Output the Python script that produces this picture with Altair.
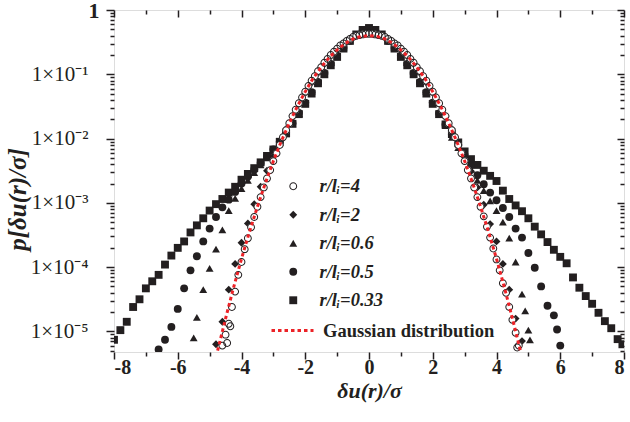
import altair as alt
import pandas as pd

INK = "#231f20"
RED = "#ec2227"
FONT = "Liberation Serif"

# ring outline used for the open-circle series (drawn over a white disc)
RING = ("M-1,0A1,1 0 1,0 1,0A1,1 0 1,0 -1,0Z"
        "M-0.74,0A0.74,0.74 0 1,1 0.74,0A0.74,0.74 0 1,1 -0.74,0Z")

# series labels (legend order) and marker styles
labels = ["r/lᵢ=4", "r/lᵢ=2", "r/lᵢ=0.6", "r/lᵢ=0.5", "r/lᵢ=0.33"]
shapes = [RING, "diamond", "triangle-up", "circle", "square"]
sizes = [62, 62, 80, 72, 72]

# r/l_i = 0.33 (squares), log10 of the PDF
sq_x = [-8.0, -7.8, -7.6, -7.4, -7.2, -7.0, -6.8, -6.6, -6.4, -6.2,
        -6.0, -5.8, -5.6, -5.4, -5.2, -5.0, -4.8, -4.6, -4.4, -4.2,
        -4.0, -3.8, -3.6, -3.4, -3.2, -3.0, -2.8, -2.6, -2.4, -2.2,
        -2.0, -1.8, -1.6, -1.4, -1.2, -1.0, -0.8, -0.6, -0.4, -0.2,
        0.0, 0.2, 0.4, 0.6, 0.8, 1.0, 1.2, 1.4, 1.6, 1.8,
        2.0, 2.2, 2.4, 2.6, 2.8, 3.0, 3.2, 3.4, 3.6, 3.8,
        4.0, 4.2, 4.4, 4.6, 4.8, 5.0, 5.2, 5.4, 5.6, 5.8,
        6.0, 6.2, 6.4, 6.6, 6.8, 7.0, 7.2, 7.4, 7.6, 7.8, 7.95]
sq_log = [-5.13, -4.98, -4.85, -4.62, -4.50, -4.33, -4.22, -4.12, -3.96, -3.82,
          -3.70, -3.60, -3.46, -3.35, -3.24, -3.12, -3.02, -2.94, -2.84, -2.75,
          -2.64, -2.55, -2.46, -2.37, -2.27, -2.17, -2.05, -1.92, -1.77, -1.62,
          -1.46, -1.30, -1.14, -1.00, -0.86, -0.73, -0.60, -0.48, -0.38, -0.31,
          -0.28, -0.31, -0.38, -0.48, -0.60, -0.73, -0.86, -1.00, -1.14, -1.30,
          -1.46, -1.62, -1.78, -1.93, -2.06, -2.20, -2.32, -2.41, -2.50, -2.58,
          -2.66, -2.81, -2.94, -3.04, -3.13, -3.24, -3.37, -3.49, -3.61, -3.73,
          -3.84, -3.94, -4.16, -4.32, -4.45, -4.57, -4.71, -4.84, -4.95, -5.12, -5.20]

# r/l_i = 0.5 (filled circles)
ci_x = [-6.6, -6.4, -6.2, -6.0, -5.8, -5.6, -5.4, -5.2, -5.0, -4.8,
        -4.6, -4.4, -4.2, -4.0, -3.8, -3.6, -3.4, -3.2, -3.0, -2.8,
        -2.6, -2.4, -2.2, -2.0, -1.8, -1.6, -1.4, -1.2, -1.0, -0.8,
        -0.6, -0.4, -0.2, 0.0, 0.2, 0.4, 0.6, 0.8, 1.0, 1.2,
        1.4, 1.6, 1.8, 2.0, 2.2, 2.4, 2.6, 2.8, 3.0, 3.2,
        3.4, 3.6, 3.8, 4.0, 4.2, 4.4, 4.6, 4.8, 5.0, 5.2,
        5.4, 5.6, 5.8, 5.9, 6.0]
ci_log = [-5.28, -5.13, -4.93, -4.65, -4.33, -4.05, -3.83, -3.60, -3.40, -3.22,
          -3.07, -2.95, -2.83, -2.70, -2.59, -2.48, -2.38, -2.28, -2.17, -2.05,
          -1.91, -1.76, -1.60, -1.44, -1.28, -1.12, -0.98, -0.84, -0.71, -0.59,
          -0.48, -0.39, -0.33, -0.31, -0.33, -0.39, -0.48, -0.59, -0.71, -0.84,
          -0.98, -1.12, -1.28, -1.44, -1.61, -1.78, -1.94, -2.10, -2.26, -2.42,
          -2.57, -2.71, -2.84, -2.96, -3.08, -3.22, -3.40, -3.54, -3.78, -4.01,
          -4.30, -4.60, -4.75, -4.97, -5.22]

# r/l_i = 0.6 (triangles)
tr_x = [-5.5, -5.4, -5.2, -5.0, -4.8, -4.6, -4.4, -4.2, -4.0, -3.8,
        -3.6, -3.4, -3.2, -3.0, -2.8, -2.6, -2.4, -2.2, -2.0, -1.8,
        -1.6, -1.4, -1.2, -1.0, -0.8, -0.6, -0.4, -0.2, 0.0, 0.2,
        0.4, 0.6, 0.8, 1.0, 1.2, 1.4, 1.6, 1.8, 2.0, 2.2,
        2.4, 2.6, 2.8, 3.0, 3.2, 3.4, 3.6, 3.8, 4.0, 4.2,
        4.4, 4.6, 4.8, 4.9, 5.0, 5.05]
tr_log = [-5.10, -4.78, -4.35, -4.02, -3.72, -3.42, -3.12, -2.93, -2.78, -2.65,
          -2.53, -2.41, -2.30, -2.19, -2.06, -1.92, -1.77, -1.61, -1.44, -1.27,
          -1.11, -0.96, -0.82, -0.69, -0.58, -0.48, -0.40, -0.35, -0.33, -0.35,
          -0.40, -0.48, -0.58, -0.69, -0.82, -0.96, -1.11, -1.27, -1.44, -1.62,
          -1.80, -1.98, -2.14, -2.31, -2.48, -2.65, -2.81, -2.97, -3.12, -3.30,
          -3.55, -3.92, -4.42, -4.68, -4.98, -5.13]

# r/l_i = 2 (diamonds)
di_x = [-4.8, -4.6, -4.4, -4.2, -4.0, -3.8, -3.6, -3.4, -3.2, -3.0,
        -2.8, -2.6, -2.4, -2.2, -2.0, -1.8, -1.6, -1.4, -1.2, -1.0,
        -0.8, -0.6, -0.4, -0.2, 0.0, 0.2, 0.4, 0.6, 0.8, 1.0,
        1.2, 1.4, 1.6, 1.8, 2.0, 2.2, 2.4, 2.6, 2.8, 3.0,
        3.2, 3.4, 3.6, 3.8, 4.0, 4.2, 4.4, 4.6, 4.8]
di_log = [-5.20, -4.85, -4.35, -3.95, -3.62, -3.32, -3.02, -2.75, -2.50, -2.27,
          -2.06, -1.85, -1.65, -1.46, -1.29, -1.13, -0.98, -0.84, -0.72, -0.62,
          -0.52, -0.45, -0.39, -0.35, -0.34, -0.35, -0.39, -0.45, -0.52, -0.62,
          -0.72, -0.84, -0.98, -1.13, -1.29, -1.46, -1.65, -1.85, -2.06, -2.28,
          -2.51, -2.76, -3.03, -3.33, -3.60, -3.95, -4.35, -4.80, -5.15]

# r/l_i = 4 (open circles)
oc_x = [-4.6, -4.5, -4.45, -4.4, -4.35, -4.3, -4.2, -4.1, -4.0, -3.9,
        -3.8, -3.7, -3.6, -3.5, -3.4, -3.3, -3.2, -3.1, -3.0, -2.9,
        -2.8, -2.7, -2.6, -2.5, -2.4, -2.3, -2.2, -2.1, -2.0, -1.9,
        -1.8, -1.7, -1.6, -1.5, -1.4, -1.3, -1.2, -1.1, -1.0, -0.9,
        -0.8, -0.7, -0.6, -0.5, -0.4, -0.3, -0.2, -0.1, 0.0, 0.1,
        0.2, 0.3, 0.4, 0.5, 0.6, 0.7, 0.8, 0.9, 1.0, 1.1,
        1.2, 1.3, 1.4, 1.5, 1.6, 1.7, 1.8, 1.9, 2.0, 2.1,
        2.2, 2.3, 2.4, 2.5, 2.6, 2.7, 2.8, 2.9, 3.0, 3.1,
        3.2, 3.3, 3.4, 3.5, 3.6, 3.7, 3.8, 3.9, 4.0, 4.1,
        4.2, 4.3, 4.4, 4.5, 4.6, 4.65, 4.7]
oc_log = [-5.22, -5.05, -5.18, -4.88, -4.92, -4.62, -4.38, -4.12, -3.92, -3.72,
          -3.55, -3.38, -3.22, -3.06, -2.91, -2.76, -2.62, -2.49, -2.35, -2.23,
          -2.10, -1.98, -1.87, -1.76, -1.65, -1.55, -1.45, -1.36, -1.27, -1.18,
          -1.10, -1.03, -0.95, -0.89, -0.82, -0.76, -0.70, -0.65, -0.60, -0.55,
          -0.52, -0.48, -0.45, -0.42, -0.40, -0.39, -0.38, -0.37, -0.37, -0.37,
          -0.38, -0.39, -0.40, -0.42, -0.45, -0.48, -0.52, -0.55, -0.60, -0.65,
          -0.70, -0.76, -0.82, -0.89, -0.95, -1.03, -1.10, -1.18, -1.27, -1.36,
          -1.45, -1.55, -1.65, -1.76, -1.87, -1.98, -2.10, -2.23, -2.35, -2.49,
          -2.62, -2.76, -2.91, -3.06, -3.21, -3.37, -3.54, -3.71, -3.88, -4.05,
          -4.25, -4.40, -4.62, -4.82, -5.02, -5.25, -5.22]

# Gaussian reference curve
ga_x = [-4.75, -4.5, -4.25, -4.0, -3.75, -3.5, -3.25, -3.0, -2.75, -2.5, -2.25, -2.0,
        -1.75, -1.5, -1.25, -1.0, -0.75, -0.5, -0.25, 0.0, 0.25, 0.5, 0.75, 1.0,
        1.25, 1.5, 1.75, 2.0, 2.25, 2.5, 2.75, 3.0, 3.25, 3.5, 3.75, 4.0,
        4.25, 4.5, 4.75]
ga_log = [-5.30, -4.80, -4.32, -3.87, -3.45, -3.06, -2.69, -2.35, -2.04, -1.76, -1.50, -1.27,
          -1.06, -0.89, -0.74, -0.62, -0.52, -0.45, -0.41, -0.40, -0.41, -0.45, -0.52, -0.62,
          -0.74, -0.89, -1.06, -1.27, -1.50, -1.76, -2.04, -2.35, -2.69, -3.06, -3.45, -3.87,
          -4.32, -4.80, -5.30]


def frame(name, xs, ls):
    return pd.DataFrame({"series": name, "x": xs, "p": [10 ** v for v in ls]})


# drawing order: widest tails underneath
solid = pd.concat([frame(labels[4], sq_x, sq_log), frame(labels[3], ci_x, ci_log),
                   frame(labels[2], tr_x, tr_log), frame(labels[1], di_x, di_log)])
hollow = frame(labels[0], oc_x, oc_log)
gauss = pd.DataFrame({"x": ga_x, "p": [10 ** v for v in ga_log], "name": "Gaussian distribution"})

Y_MIN = 10 ** -5.32
xscale = alt.Scale(domain=[-8, 8], nice=False, zero=False)
yscale = alt.Scale(type="log", domain=[Y_MIN, 1], nice=False)

y_ticks = [m * 10.0 ** k for k in range(-6, 1) for m in range(1, 10)
           if Y_MIN < m * 10.0 ** k <= 1.0]
x_ticks = list(range(-8, 9))

Y_MAJOR = "abs(log(datum.value)/LN10 - round(log(datum.value)/LN10)) < 0.001"
X_MAJOR = "datum.value % 2 == 0"
IS_ONE = "datum.value >= 0.5"

# "1" for the top decade, otherwise 1×10^-k; unlabelled minor ticks
y_label_expr = (f"({Y_MAJOR}) ? (datum.value >= 0.5 ? '1' : '1×10' + "
                "['⁰','⁻¹','⁻²','⁻³','⁻⁴','⁻⁵'][round(-log(datum.value)/LN10)]) : ''")

x_axis = alt.Axis(values=x_ticks, orient="bottom",
                  tickSize={"condition": {"test": X_MAJOR, "value": 7}, "value": 4},
                  tickWidth=1.5, tickColor=INK, domain=False, grid=False, labelOverlap=False,
                  labelExpr=f"({X_MAJOR}) ? '' + datum.value : ''",
                  labelFont=FONT, labelFontSize=20, labelFontWeight="bold", labelColor=INK,
                  labelPadding=-2, title="δu(r)/σ", titleFont=FONT, titleFontSize=22,
                  titleFontStyle="italic", titleFontWeight="bold", titleColor=INK,
                  titleY=38, titleBaseline="middle")
y_axis = alt.Axis(values=y_ticks, orient="left",
                  tickSize={"condition": {"test": Y_MAJOR, "value": 8}, "value": 4},
                  tickWidth=1.5, tickColor=INK, domain=False, grid=False, labelOverlap=False,
                  labelExpr=y_label_expr, labelFont=FONT,
                  labelFontSize={"condition": {"test": IS_ONE, "value": 22}, "value": 21},
                  labelFontWeight={"condition": {"test": IS_ONE, "value": "bold"}, "value": "normal"},
                  labelAlign={"condition": {"test": IS_ONE, "value": "left"}, "value": "right"},
                  labelColor=INK, labelPadding=18,
                  title="p[δu(r)/σ]", titleFont=FONT, titleFontSize=25, titleFontStyle="italic",
                  titleFontWeight="bold", titleColor=INK, titleX=-97, titleY=189,
                  titleBaseline="middle")

# mirrored ticks on the top and right edges, pointing into the frame;
# minor ticks keep only their outer part through a dash pattern
x_top = alt.Axis(values=x_ticks, orient="top", offset=-7, tickSize=7, tickWidth=1.5,
                 tickColor=INK, domain=False, grid=False, labels=False, title=None,
                 tickDash={"condition": {"test": X_MAJOR, "value": [20, 0]}, "value": [0, 3, 4, 20]})
y_right = alt.Axis(values=y_ticks, orient="right", offset=-7, tickSize=7, tickWidth=1.5,
                   tickColor=INK, domain=False, grid=False, labels=False, title=None,
                   tickDash={"condition": {"test": Y_MAJOR, "value": [20, 0]}, "value": [0, 3, 4, 20]})


def series_legend():
    return alt.Legend(orient="none", legendX=170, legendY=167, title=None,
                      symbolFillColor=INK, symbolStrokeWidth=0,
                      labelFont=FONT, labelFontSize=18.5, labelFontWeight="bold",
                      labelFontStyle="italic", labelColor=INK, rowPadding=9.5,
                      labelOffset=17, padding=0)


shape_enc = alt.Shape("series:N", scale=alt.Scale(domain=labels, range=shapes), legend=series_legend())
size_enc = alt.Size("series:N", scale=alt.Scale(domain=labels, range=sizes), legend=series_legend())

solid_pts = alt.Chart(solid).mark_point(filled=True, color=INK, opacity=1, clip=True).encode(
    x=alt.X("x:Q", scale=xscale, axis=x_axis),
    y=alt.Y("p:Q", scale=yscale, axis=y_axis),
    shape=shape_enc, size=size_enc,
)

# white interiors of the open circles
discs = alt.Chart(hollow).mark_point(filled=True, color="white", shape="circle", opacity=1,
                                     size=52, clip=True).encode(
    x=alt.X("x:Q", scale=xscale, axis=None),
    y=alt.Y("p:Q", scale=yscale, axis=None),
)
rings = alt.Chart(hollow).mark_point(filled=True, color=INK, opacity=1, clip=True).encode(
    x=alt.X("x:Q", scale=xscale, axis=None),
    y=alt.Y("p:Q", scale=yscale, axis=None),
    shape=shape_enc, size=size_enc,
)

gauss_line = alt.Chart(gauss).mark_line(strokeWidth=3, strokeDash=[3.5, 3], clip=True).encode(
    x=alt.X("x:Q", scale=xscale, axis=None),
    y=alt.Y("p:Q", scale=yscale, axis=None),
    color=alt.Color("name:N", scale=alt.Scale(range=[RED]),
                    legend=alt.Legend(orient="none", legendX=156, legendY=298, title=None,
                                      symbolType="stroke", symbolSize=1764, symbolStrokeWidth=3,
                                      symbolDash=[3.5, 3], labelFont=FONT, labelFontSize=18.5,
                                      labelFontWeight="bold", labelColor=INK, labelOffset=8,
                                      labelLimit=400, padding=0)),
)

mirror = alt.Chart(gauss).mark_line(opacity=0).encode(
    x=alt.X("x:Q", scale=xscale, axis=x_top),
    y=alt.Y("p:Q", scale=yscale, axis=y_right),
)

chart = alt.layer(solid_pts, discs, rings, gauss_line, mirror).resolve_axis(
    x="independent", y="independent"
).properties(
    width=510, height=342,
    autosize=alt.AutoSizeParams(type="none"),
    padding={"left": 114, "top": 10, "right": 6, "bottom": 70},
).configure_view(stroke=INK, strokeWidth=2).configure(background="white")

chart.save("out.html", embed_options={"renderer": "svg", "actions": False})
